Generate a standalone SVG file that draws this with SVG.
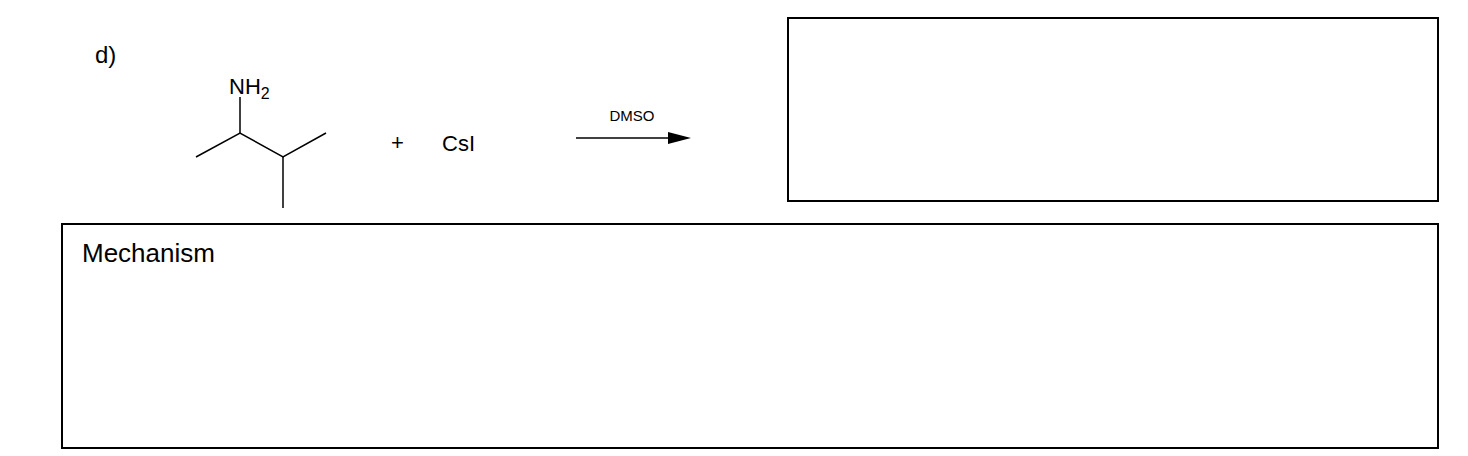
<svg xmlns="http://www.w3.org/2000/svg" width="1468" height="456" viewBox="0 0 1468 456">
<style>
text{font-family:"Liberation Sans",Arial,sans-serif;fill:#000}
.b{fill:none;stroke:#000;stroke-width:1.5}
.box{fill:none;stroke:#000;stroke-width:2}
</style>
<rect width="1468" height="456" fill="#fff"/>
<text x="95" y="63" font-size="24">d)</text>
<g id="amine">
<polyline class="b" points="196,157 240,133 283,157 326,133"/>
<line class="b" x1="283" y1="157" x2="283" y2="208"/>
<line class="b" x1="240" y1="133" x2="240" y2="97"/>
<text x="229" y="94" font-size="22">NH<tspan font-size="16" dy="5">2</tspan></text>
</g>
<text id="plus" x="391" y="150" font-size="22">+</text>
<text id="csi" x="442" y="151" font-size="22">CsI</text>
<g id="connectors">
<line class="b" x1="576" y1="138" x2="672" y2="138"/>
<polygon points="668,132 691,138 668,144"/>
</g>
<text x="632" y="121" font-size="15" text-anchor="middle">DMSO</text>
<g id="product"><rect class="box" x="788" y="18" width="650" height="183"/></g>
<g id="mechanism"><rect class="box" x="62" y="224" width="1376" height="224"/>
<text x="82" y="262" font-size="26">Mechanism</text></g>
</svg>
